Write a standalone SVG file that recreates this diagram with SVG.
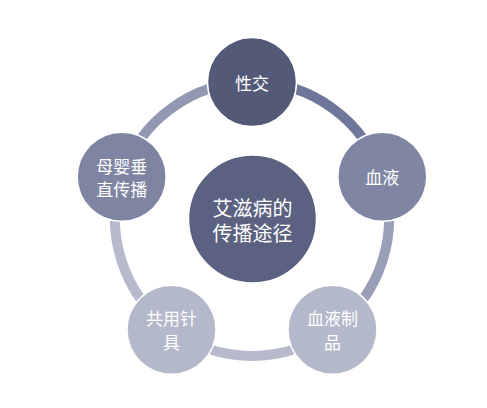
<svg xmlns="http://www.w3.org/2000/svg" width="487" height="408" viewBox="0 0 487 408">
<style>
.ring{fill:none;stroke-width:10}
.node{stroke:#ffffff;stroke-width:1.5}
.t{font-family:"Noto Sans CJK SC","Noto Sans",sans-serif;fill:#ffffff;text-anchor:middle;dominant-baseline:central}
.s{font-size:17px}
.c{font-size:20px}
</style>
<rect width="487" height="408" fill="#ffffff"/>
<g id="connectors">
<path class="ring" stroke="#9298b2" d="M121.7,176.7 A137,137 0 0 1 252,82"/>
<path class="ring" stroke="#6e7799" d="M252,82 A137,137 0 0 1 382.3,176.7"/>
<path class="ring" stroke="#9a9fb8" d="M382.3,176.7 A137,137 0 0 1 332.5,329.8"/>
<path class="ring" stroke="#b6bacc" d="M332.5,329.8 A137,137 0 0 1 171.5,329.8"/>
<path class="ring" stroke="#b6bacc" d="M171.5,329.8 A137,137 0 0 1 121.7,176.7"/>
</g>
<g id="center">
<circle class="node" cx="252.5" cy="219" r="64" fill="#5b6180"/>
<text class="t c" x="252.5" y="207">艾滋病的</text>
<text class="t c" x="252.5" y="232">传播途径</text>
</g>
<g id="node-top">
<circle class="node" cx="252" cy="82" r="44.5" fill="#525a78"/>
<text class="t s" x="252" y="82">性交</text>
</g>
<g id="node-right">
<circle class="node" cx="382.3" cy="176.7" r="44.5" fill="#7f86a3"/>
<text class="t s" x="382.3" y="176.7">血液</text>
</g>
<g id="node-bottom-right">
<circle class="node" cx="332.5" cy="329.8" r="44.5" fill="#b4b8cb"/>
<text class="t s" x="332.5" y="317.5">血液制</text>
<text class="t s" x="332.5" y="341.5">品</text>
</g>
<g id="node-bottom-left">
<circle class="node" cx="171.5" cy="329.8" r="44.5" fill="#b4b8cb"/>
<text class="t s" x="171.5" y="317.5">共用针</text>
<text class="t s" x="171.5" y="341.5">具</text>
</g>
<g id="node-left">
<circle class="node" cx="121.7" cy="176.7" r="44.5" fill="#7e85a3"/>
<text class="t s" x="121.7" y="165">母婴垂</text>
<text class="t s" x="121.7" y="188.5">直传播</text>
</g>
</svg>
